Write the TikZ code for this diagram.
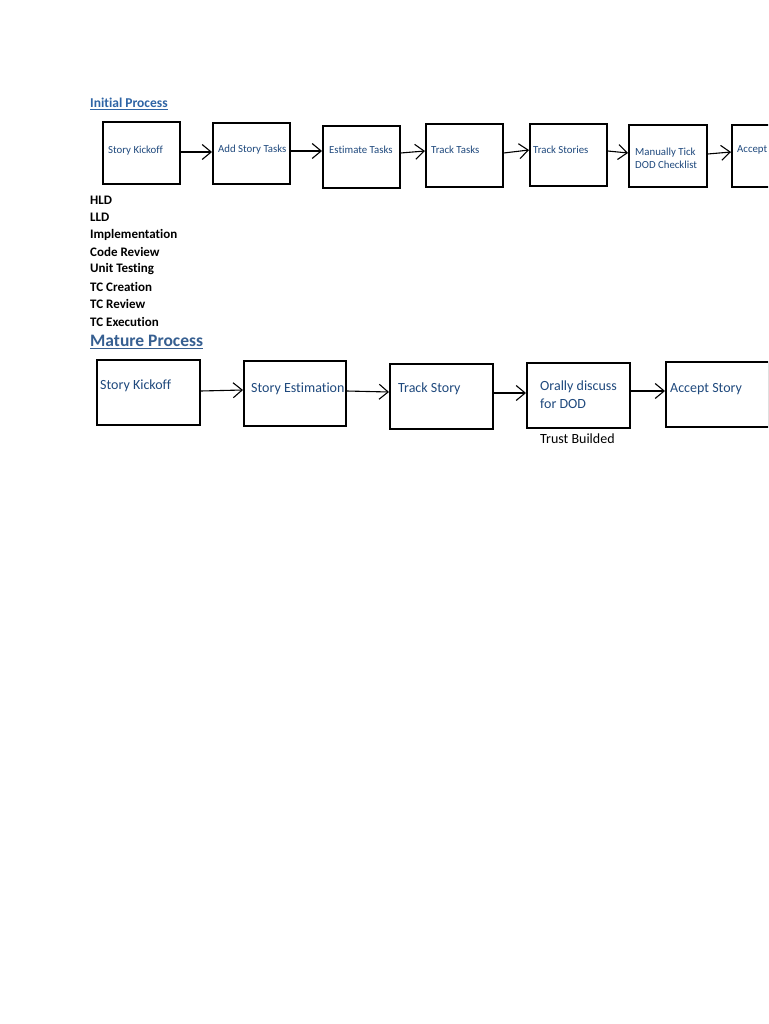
\documentclass[tikz,border=0pt]{standalone}
\usepackage{fontspec}
\setmainfont{Carlito}[Ligatures=NoCommon]
\usetikzlibrary{arrows.meta}
\definecolor{boxtext}{RGB}{31,73,125}
\definecolor{headA}{RGB}{46,100,165}
\definecolor{headB}{RGB}{54,95,145}
\begin{document}
\begin{tikzpicture}[x=1pt,y=-1pt,
  box/.style={draw=black,line width=1.7pt,anchor=north west,inner sep=0pt},
  itext/.style={anchor=west,inner sep=0pt,text=boxtext,font=\fontsize{10.8}{13.5}\selectfont,align=left},
  mtext/.style={anchor=west,inner sep=0pt,text=boxtext,font=\fontsize{14}{18}\selectfont,align=left},
  listitem/.style={anchor=west,inner sep=0pt,font=\fontsize{13}{15}\selectfont\bfseries},
  heading/.style={anchor=west,inner sep=0pt,font=\bfseries},
  flow/.style={line width=1.1pt,-{Straight Barb[length=9pt,width=15pt,line width=1.1pt]}},
  note/.style={anchor=west,inner sep=0pt,font=\fontsize{14}{16}\selectfont}]
\useasboundingbox (0,0) rectangle (768,1024);
\fill[white] (0,0) rectangle (768,1024);
\clip (0,0) rectangle (768,1024);

% headings
\node[heading,text=headA,font=\fontsize{13.5}{15}\selectfont\bfseries] (h1) at (90,104) {\underline{Initial Process}};
\node[heading,text=headB,font=\fontsize{17.5}{20}\selectfont\bfseries] (h2) at (90,342) {\underline{Mature Process}};

% initial row boxes
\node[box,minimum width=77pt,minimum height=62pt] (i1) at (102,121) {};
\node[box,minimum width=77pt,minimum height=61pt] (i2) at (212,122) {};
\node[box,minimum width=77pt,minimum height=62pt] (i3) at (322,125) {};
\node[box,minimum width=77pt,minimum height=63pt] (i4) at (425,123) {};
\node[box,minimum width=77pt,minimum height=62pt] (i5) at (529,123) {};
\node[box,minimum width=78pt,minimum height=62pt] (i6) at (628,124) {};
\node[box,minimum width=77pt,minimum height=62pt] (i7) at (731,124) {};

\node[itext] (ti1) at (108,151) {Story Kickoff};
\node[itext] (ti2) at (218,150) {Add Story Tasks};
\node[itext] (ti3) at (329,150) {Estimate Tasks};
\node[itext] (ti4) at (431,150) {Track Tasks};
\node[itext] (ti5) at (533,150) {Track Stories};
\node[itext] (ti6) at (635,158.5) {Manually Tick\\DOD Checklist};
\node[itext] (ti7) at (737,150) {Accept};

\draw[flow] (i1.east |- 0,152) -- (i2.west |- 0,152);
\draw[flow] (i2.east |- 0,151) -- (i3.west |- 0,151);
\draw[flow] (i3.east |- 0,153) -- (i4.west |- 0,151);
\draw[flow] (i4.east |- 0,153) -- (i5.west |- 0,150);
\draw[flow] (i5.east |- 0,151) -- (i6.west |- 0,153);
\draw[flow] (i6.east |- 0,154) -- (i7.west |- 0,152);

% list
\node[listitem] (l1) at (90,200) {HLD};
\node[listitem] (l2) at (90,217) {LLD};
\node[listitem] (l3) at (90,235) {Implementation};
\node[listitem] (l4) at (90,252) {Code Review};
\node[listitem] (l5) at (90,269) {Unit Testing};
\node[listitem] (l6) at (90,287) {TC Creation};
\node[listitem] (l7) at (90,304) {TC Review};
\node[listitem] (l8) at (90,322) {TC Execution};

% mature row
\node[box,minimum width=103pt,minimum height=65pt] (m1) at (96,359) {};
\node[box,minimum width=102pt,minimum height=65pt] (m2) at (243,360) {};
\node[box,minimum width=103pt,minimum height=65pt] (m3) at (389,363) {};
\node[box,minimum width=103pt,minimum height=65pt] (m4) at (526,362) {};
\node[box,minimum width=103pt,minimum height=65pt] (m5) at (665,361) {};

\node[mtext] (tm1) at (100,386) {Story Kickoff};
\node[mtext] (tm2) at (251,389) {Story Estimation};
\node[mtext] (tm3) at (398,389) {Track Story};
\node[mtext] (tm4) at (540,395) {Orally discuss\\for DOD};
\node[mtext] (tm5) at (670,389) {Accept Story};

\draw[flow] (m1.east |- 0,391) -- (m2.west |- 0,390);
\draw[flow] (m2.east |- 0,391) -- (m3.west |- 0,392);
\draw[flow] (m3.east |- 0,393) -- (m4.west |- 0,393);
\draw[flow] (m4.east |- 0,391) -- (m5.west |- 0,391);

\node[note] (tb) at (540,439) {Trust Builded};
\end{tikzpicture}
\end{document}
